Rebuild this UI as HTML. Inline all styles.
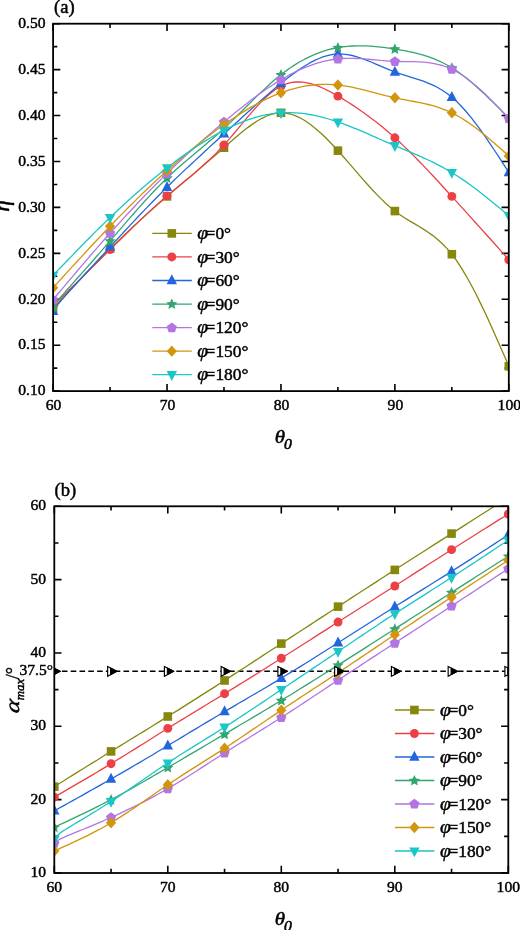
<!DOCTYPE html>
<html><head><meta charset="utf-8"><title>Figure</title>
<style>
html,body{margin:0;padding:0;background:#fff;}
svg{display:block;}
text{font-family:"Liberation Serif", serif;fill:#000;stroke:#000;stroke-width:0.46px;}
</style></head><body>
<svg width="520" height="930" viewBox="0 0 520 930">
<rect width="520" height="930" fill="#fff"/>
<defs>
<clipPath id="ca"><rect x="53.1" y="23.7" width="455.7" height="367.40000000000003"/></clipPath>
<clipPath id="cb"><rect x="54.3" y="506.3" width="454.0" height="366.7"/></clipPath>
</defs>

<path d="M53.10,391.1v-7.2M53.10,23.7v7.2M110.06,391.1v-4.2M110.06,23.7v4.2M167.03,391.1v-7.2M167.03,23.7v7.2M223.99,391.1v-4.2M223.99,23.7v4.2M280.95,391.1v-7.2M280.95,23.7v7.2M337.91,391.1v-4.2M337.91,23.7v4.2M394.88,391.1v-7.2M394.88,23.7v7.2M451.84,391.1v-4.2M451.84,23.7v4.2M508.80,391.1v-7.2M508.80,23.7v7.2M53.1,391.10h7.2M508.8,391.10h-7.2M53.1,345.18h7.2M508.8,345.18h-7.2M53.1,299.25h7.2M508.8,299.25h-7.2M53.1,253.33h7.2M508.8,253.33h-7.2M53.1,207.40h7.2M508.8,207.40h-7.2M53.1,161.48h7.2M508.8,161.48h-7.2M53.1,115.55h7.2M508.8,115.55h-7.2M53.1,69.62h7.2M508.8,69.62h-7.2M53.1,23.70h7.2M508.8,23.70h-7.2M53.1,368.14h4.2M508.8,368.14h-4.2M53.1,322.21h4.2M508.8,322.21h-4.2M53.1,276.29h4.2M508.8,276.29h-4.2M53.1,230.36h4.2M508.8,230.36h-4.2M53.1,184.44h4.2M508.8,184.44h-4.2M53.1,138.51h4.2M508.8,138.51h-4.2M53.1,92.59h4.2M508.8,92.59h-4.2M53.1,46.66h4.2M508.8,46.66h-4.2" stroke="#000" stroke-width="1.6" fill="none"/>
<g clip-path="url(#ca)">
<path d="M53.1,308.4 L57.8,303.3 L62.6,298.2 L67.3,293.1 L72.1,288.0 L76.8,283.0 L81.6,278.0 L86.3,273.0 L91.1,268.0 L95.8,263.1 L100.6,258.3 L105.3,253.5 L110.1,248.7 L114.8,244.1 L119.6,239.5 L124.3,234.9 L129.1,230.4 L133.8,226.0 L138.5,221.6 L143.3,217.3 L148.0,213.1 L152.8,208.8 L157.5,204.6 L162.3,200.5 L167.0,196.4 L171.8,192.3 L176.5,188.2 L181.3,184.2 L186.0,180.2 L190.8,176.2 L195.5,172.2 L200.3,168.1 L205.0,164.1 L209.7,160.1 L214.5,156.0 L219.2,151.9 L224.0,147.7 L228.7,143.5 L233.5,139.3 L238.2,135.2 L243.0,131.3 L247.7,127.6 L252.5,124.1 L257.2,121.0 L262.0,118.3 L266.7,116.0 L271.5,114.3 L276.2,113.2 L281.0,112.8 L285.7,113.1 L290.4,114.0 L295.2,115.6 L299.9,117.8 L304.7,120.5 L309.4,123.7 L314.2,127.4 L318.9,131.4 L323.7,135.8 L328.4,140.5 L333.2,145.5 L337.9,150.6 L342.7,156.0 L347.4,161.4 L352.2,166.9 L356.9,172.4 L361.6,177.9 L366.4,183.3 L371.1,188.5 L375.9,193.6 L380.6,198.4 L385.4,203.0 L390.1,207.2 L394.9,211.1 L399.6,214.5 L404.4,217.7 L409.1,220.6 L413.9,223.4 L418.6,226.2 L423.4,229.1 L428.1,232.2 L432.9,235.6 L437.6,239.4 L442.3,243.7 L447.1,248.6 L451.8,254.2 L456.6,260.7 L461.3,267.9 L466.1,275.8 L470.8,284.3 L475.6,293.3 L480.3,302.9 L485.1,312.8 L489.8,323.1 L494.6,333.7 L499.3,344.4 L504.1,355.3 L508.8,366.3" fill="none" stroke="#87870e" stroke-width="1.3" stroke-linejoin="round"/>
<rect x="48.80" y="304.13" width="8.60" height="8.60" fill="#87870e"/>
<rect x="105.76" y="244.43" width="8.60" height="8.60" fill="#87870e"/>
<rect x="162.72" y="192.08" width="8.60" height="8.60" fill="#87870e"/>
<rect x="219.69" y="143.40" width="8.60" height="8.60" fill="#87870e"/>
<rect x="276.65" y="108.49" width="8.60" height="8.60" fill="#87870e"/>
<rect x="333.61" y="146.34" width="8.60" height="8.60" fill="#87870e"/>
<rect x="390.57" y="206.77" width="8.60" height="8.60" fill="#87870e"/>
<rect x="447.54" y="249.94" width="8.60" height="8.60" fill="#87870e"/>
<rect x="504.50" y="362.00" width="8.60" height="8.60" fill="#87870e"/>
<path d="M53.1,305.7 L57.8,301.0 L62.6,296.3 L67.3,291.7 L72.1,287.0 L76.8,282.4 L81.6,277.7 L86.3,273.0 L91.1,268.3 L95.8,263.7 L100.6,259.0 L105.3,254.3 L110.1,249.7 L114.8,245.0 L119.6,240.3 L124.3,235.7 L129.1,231.0 L133.8,226.4 L138.5,221.9 L143.3,217.4 L148.0,212.9 L152.8,208.5 L157.5,204.2 L162.3,200.0 L167.0,195.9 L171.8,191.9 L176.5,187.9 L181.3,184.0 L186.0,180.1 L190.8,176.2 L195.5,172.2 L200.3,168.1 L205.0,163.8 L209.7,159.5 L214.5,154.9 L219.2,150.0 L224.0,144.9 L228.7,139.6 L233.5,134.0 L238.2,128.3 L243.0,122.6 L247.7,116.9 L252.5,111.4 L257.2,106.1 L262.0,101.1 L266.7,96.5 L271.5,92.4 L276.2,89.0 L281.0,86.2 L285.7,84.1 L290.4,82.7 L295.2,82.0 L299.9,81.9 L304.7,82.4 L309.4,83.3 L314.2,84.7 L318.9,86.4 L323.7,88.5 L328.4,90.8 L333.2,93.4 L337.9,96.1 L342.7,98.9 L347.4,101.8 L352.2,104.9 L356.9,108.0 L361.6,111.3 L366.4,114.7 L371.1,118.2 L375.9,121.8 L380.6,125.6 L385.4,129.5 L390.1,133.6 L394.9,137.8 L399.6,142.1 L404.4,146.6 L409.1,151.2 L413.9,155.9 L418.6,160.7 L423.4,165.6 L428.1,170.6 L432.9,175.7 L437.6,180.8 L442.3,186.0 L447.1,191.2 L451.8,196.4 L456.6,201.6 L461.3,206.9 L466.1,212.1 L470.8,217.4 L475.6,222.7 L480.3,227.9 L485.1,233.2 L489.8,238.5 L494.6,243.8 L499.3,249.1 L504.1,254.4 L508.8,259.8" fill="none" stroke="#ec4046" stroke-width="1.3" stroke-linejoin="round"/>
<circle cx="53.10" cy="305.68" r="4.45" fill="#ec4046"/>
<circle cx="110.06" cy="249.65" r="4.45" fill="#ec4046"/>
<circle cx="167.03" cy="195.92" r="4.45" fill="#ec4046"/>
<circle cx="223.99" cy="144.94" r="4.45" fill="#ec4046"/>
<circle cx="280.95" cy="86.16" r="4.45" fill="#ec4046"/>
<circle cx="337.91" cy="96.08" r="4.45" fill="#ec4046"/>
<circle cx="394.88" cy="137.78" r="4.45" fill="#ec4046"/>
<circle cx="451.84" cy="196.38" r="4.45" fill="#ec4046"/>
<circle cx="508.80" cy="259.75" r="4.45" fill="#ec4046"/>
<path d="M53.1,311.2 L53.7,310.2 L54.3,309.3 L54.9,308.4 L55.6,307.4 L56.4,306.3 L57.3,305.2 L58.3,303.9 L59.5,302.5 L60.9,300.8 L62.6,298.9 L64.6,296.6 L67.3,293.6 L72.1,288.3 L76.8,283.1 L81.6,277.9 L86.3,272.8 L91.1,267.6 L95.8,262.4 L100.6,257.2 L105.3,252.1 L110.1,246.9 L114.8,241.8 L119.6,236.6 L124.3,231.5 L129.1,226.4 L133.8,221.4 L138.5,216.3 L143.3,211.4 L148.0,206.4 L152.8,201.5 L157.5,196.7 L162.3,191.9 L167.0,187.2 L171.8,182.5 L176.5,177.9 L181.3,173.4 L186.0,168.9 L190.8,164.5 L195.5,160.1 L200.3,155.7 L205.0,151.3 L209.7,146.9 L214.5,142.6 L219.2,138.3 L224.0,133.9 L228.7,129.6 L233.5,125.2 L238.2,120.9 L243.0,116.5 L247.7,112.2 L252.5,107.9 L257.2,103.7 L262.0,99.5 L266.7,95.4 L271.5,91.3 L276.2,87.3 L281.0,83.4 L285.7,79.6 L290.4,75.9 L295.2,72.4 L299.9,69.1 L304.7,66.0 L309.4,63.2 L314.2,60.7 L318.9,58.5 L323.7,56.7 L328.4,55.4 L333.2,54.4 L337.9,54.0 L342.7,54.1 L347.4,54.6 L352.2,55.5 L356.9,56.8 L361.6,58.3 L366.4,60.1 L371.1,62.0 L375.9,64.1 L380.6,66.1 L385.4,68.2 L390.1,70.2 L394.9,72.0 L399.6,73.7 L404.4,75.2 L409.1,76.6 L413.9,78.1 L418.6,79.6 L423.4,81.2 L428.1,83.1 L432.9,85.1 L437.6,87.5 L442.3,90.3 L447.1,93.5 L451.8,97.2 L456.6,101.4 L461.3,106.2 L466.1,111.5 L470.8,117.2 L475.6,123.3 L480.3,129.7 L485.1,136.4 L489.8,143.3 L494.6,150.5 L499.3,157.7 L504.1,165.1 L508.8,172.5" fill="none" stroke="#2166de" stroke-width="1.3" stroke-linejoin="round"/>
<polygon points="53.10,304.89 47.90,314.89 58.30,314.89" fill="#2166de"/>
<polygon points="110.06,240.60 104.86,250.60 115.26,250.60" fill="#2166de"/>
<polygon points="167.03,180.89 161.83,190.89 172.22,190.89" fill="#2166de"/>
<polygon points="223.99,127.62 218.79,137.62 229.19,137.62" fill="#2166de"/>
<polygon points="280.95,77.10 275.75,87.10 286.15,87.10" fill="#2166de"/>
<polygon points="337.91,47.71 332.71,57.71 343.11,57.71" fill="#2166de"/>
<polygon points="394.88,65.71 389.68,75.71 400.07,75.71" fill="#2166de"/>
<polygon points="451.84,90.88 446.64,100.88 457.04,100.88" fill="#2166de"/>
<polygon points="508.80,166.20 503.60,176.20 514.00,176.20" fill="#2166de"/>
<path d="M53.1,307.1 L53.7,306.1 L54.3,305.2 L54.9,304.4 L55.6,303.4 L56.4,302.4 L57.3,301.2 L58.3,300.0 L59.5,298.5 L60.9,296.8 L62.6,294.9 L64.6,292.6 L67.3,289.5 L72.1,284.1 L76.8,278.8 L81.6,273.4 L86.3,268.1 L91.1,262.7 L95.8,257.3 L100.6,251.9 L105.3,246.4 L110.1,240.9 L114.8,235.4 L119.6,229.9 L124.3,224.4 L129.1,218.9 L133.8,213.5 L138.5,208.1 L143.3,202.8 L148.0,197.6 L152.8,192.5 L157.5,187.5 L162.3,182.7 L167.0,178.0 L171.8,173.5 L176.5,169.2 L181.3,165.0 L186.0,160.9 L190.8,156.9 L195.5,152.9 L200.3,149.0 L205.0,145.0 L209.7,141.0 L214.5,136.9 L219.2,132.7 L224.0,128.4 L228.7,124.0 L233.5,119.4 L238.2,114.7 L243.0,110.0 L247.7,105.3 L252.5,100.6 L257.2,95.9 L262.0,91.4 L266.7,86.9 L271.5,82.6 L276.2,78.5 L281.0,74.7 L285.7,71.1 L290.4,67.7 L295.2,64.6 L299.9,61.8 L304.7,59.2 L309.4,56.8 L314.2,54.7 L318.9,52.8 L323.7,51.1 L328.4,49.7 L333.2,48.5 L337.9,47.6 L342.7,46.8 L347.4,46.3 L352.2,46.0 L356.9,45.8 L361.6,45.8 L366.4,45.9 L371.1,46.2 L375.9,46.6 L380.6,47.1 L385.4,47.7 L390.1,48.3 L394.9,49.1 L399.6,49.8 L404.4,50.7 L409.1,51.6 L413.9,52.6 L418.6,53.8 L423.4,55.1 L428.1,56.7 L432.9,58.4 L437.6,60.3 L442.3,62.5 L447.1,65.0 L451.8,67.8 L456.6,70.9 L461.3,74.3 L466.1,77.9 L470.8,81.8 L475.6,85.9 L480.3,90.2 L485.1,94.6 L489.8,99.2 L494.6,103.9 L499.3,108.6 L504.1,113.5 L508.8,118.3" fill="none" stroke="#33a56e" stroke-width="1.3" stroke-linejoin="round"/>
<polygon points="53.10,301.46 54.73,305.11 58.71,305.53 55.74,308.21 56.57,312.13 53.10,310.13 49.63,312.13 50.46,308.21 47.49,305.53 51.47,305.11" fill="#33a56e"/>
<polygon points="110.06,235.33 111.69,238.98 115.67,239.40 112.70,242.08 113.53,246.00 110.06,244.00 106.59,246.00 107.43,242.08 104.45,239.40 108.43,238.98" fill="#33a56e"/>
<polygon points="167.03,172.41 168.65,176.06 172.64,176.48 169.66,179.16 170.49,183.08 167.03,181.08 163.56,183.08 164.39,179.16 161.41,176.48 165.40,176.06" fill="#33a56e"/>
<polygon points="223.99,122.81 225.62,126.47 229.60,126.89 226.62,129.57 227.46,133.48 223.99,131.48 220.52,133.48 221.35,129.57 218.38,126.89 222.36,126.47" fill="#33a56e"/>
<polygon points="280.95,69.08 282.58,72.73 286.56,73.15 283.59,75.83 284.42,79.75 280.95,77.75 277.48,79.75 278.31,75.83 275.34,73.15 279.32,72.73" fill="#33a56e"/>
<polygon points="337.91,41.98 339.54,45.64 343.52,46.06 340.55,48.74 341.38,52.65 337.91,50.65 334.44,52.65 335.28,48.74 332.30,46.06 336.28,45.64" fill="#33a56e"/>
<polygon points="394.88,43.45 396.50,47.11 400.49,47.53 397.51,50.21 398.34,54.12 394.88,52.12 391.41,54.12 392.24,50.21 389.26,47.53 393.25,47.11" fill="#33a56e"/>
<polygon points="451.84,62.19 453.47,65.84 457.45,66.26 454.47,68.94 455.31,72.86 451.84,70.86 448.37,72.86 449.20,68.94 446.23,66.26 450.21,65.84" fill="#33a56e"/>
<polygon points="508.80,112.71 510.43,116.36 514.41,116.78 511.44,119.46 512.27,123.38 508.80,121.38 505.33,123.38 506.16,119.46 503.19,116.78 507.17,116.36" fill="#33a56e"/>
<path d="M53.1,299.7 L57.8,294.0 L62.6,288.4 L67.3,282.7 L72.1,277.1 L76.8,271.5 L81.6,265.9 L86.3,260.3 L91.1,254.8 L95.8,249.3 L100.6,243.9 L105.3,238.5 L110.1,233.1 L114.8,227.8 L119.6,222.6 L124.3,217.4 L129.1,212.3 L133.8,207.2 L138.5,202.2 L143.3,197.3 L148.0,192.4 L152.8,187.5 L157.5,182.8 L162.3,178.1 L167.0,173.4 L171.8,168.8 L176.5,164.3 L181.3,159.8 L186.0,155.4 L190.8,151.1 L195.5,146.8 L200.3,142.5 L205.0,138.3 L209.7,134.2 L214.5,130.1 L219.2,126.0 L224.0,122.0 L228.7,118.0 L233.5,114.1 L238.2,110.2 L243.0,106.4 L247.7,102.7 L252.5,99.1 L257.2,95.6 L262.0,92.1 L266.7,88.8 L271.5,85.7 L276.2,82.6 L281.0,79.7 L285.7,77.0 L290.4,74.4 L295.2,72.0 L299.9,69.7 L304.7,67.7 L309.4,65.8 L314.2,64.1 L318.9,62.7 L323.7,61.4 L328.4,60.3 L333.2,59.5 L337.9,58.9 L342.7,58.5 L347.4,58.3 L352.2,58.3 L356.9,58.5 L361.6,58.7 L366.4,59.1 L371.1,59.5 L375.9,59.9 L380.6,60.4 L385.4,60.8 L390.1,61.1 L394.9,61.4 L399.6,61.5 L404.4,61.6 L409.1,61.7 L413.9,61.7 L418.6,61.9 L423.4,62.2 L428.1,62.6 L432.9,63.3 L437.6,64.3 L442.3,65.5 L447.1,67.1 L451.8,69.2 L456.6,71.6 L461.3,74.5 L466.1,77.8 L470.8,81.5 L475.6,85.4 L480.3,89.6 L485.1,94.0 L489.8,98.7 L494.6,103.4 L499.3,108.3 L504.1,113.3 L508.8,118.3" fill="none" stroke="#b275e2" stroke-width="1.3" stroke-linejoin="round"/>
<polygon points="53.10,294.53 58.21,298.25 56.26,304.26 49.94,304.26 47.99,298.25" fill="#b275e2"/>
<polygon points="110.06,227.94 115.17,231.66 113.22,237.67 106.90,237.67 104.95,231.66" fill="#b275e2"/>
<polygon points="167.03,168.24 172.14,171.95 170.18,177.96 163.87,177.96 161.91,171.95" fill="#b275e2"/>
<polygon points="223.99,116.80 229.10,120.52 227.15,126.53 220.83,126.53 218.88,120.52" fill="#b275e2"/>
<polygon points="280.95,74.55 286.06,78.27 284.11,84.28 277.79,84.28 275.84,78.27" fill="#b275e2"/>
<polygon points="337.91,53.70 343.02,57.42 341.07,63.43 334.75,63.43 332.80,57.42" fill="#b275e2"/>
<polygon points="394.88,56.18 399.99,59.90 398.03,65.91 391.72,65.91 389.76,59.90" fill="#b275e2"/>
<polygon points="451.84,63.99 456.95,67.70 455.00,73.71 448.68,73.71 446.73,67.70" fill="#b275e2"/>
<polygon points="508.80,113.13 513.91,116.84 511.96,122.85 505.64,122.85 503.69,116.84" fill="#b275e2"/>
<path d="M53.1,287.8 L57.8,282.6 L62.6,277.3 L67.3,272.1 L72.1,266.9 L76.8,261.8 L81.6,256.6 L86.3,251.5 L91.1,246.3 L95.8,241.3 L100.6,236.2 L105.3,231.2 L110.1,226.2 L114.8,221.3 L119.6,216.4 L124.3,211.6 L129.1,206.8 L133.8,202.1 L138.5,197.4 L143.3,192.8 L148.0,188.3 L152.8,183.8 L157.5,179.3 L162.3,175.0 L167.0,170.7 L171.8,166.4 L176.5,162.3 L181.3,158.2 L186.0,154.2 L190.8,150.2 L195.5,146.3 L200.3,142.5 L205.0,138.8 L209.7,135.2 L214.5,131.6 L219.2,128.1 L224.0,124.7 L228.7,121.4 L233.5,118.2 L238.2,115.1 L243.0,112.1 L247.7,109.1 L252.5,106.4 L257.2,103.7 L262.0,101.2 L266.7,98.9 L271.5,96.7 L276.2,94.6 L281.0,92.8 L285.7,91.1 L290.4,89.6 L295.2,88.3 L299.9,87.2 L304.7,86.2 L309.4,85.5 L314.2,84.9 L318.9,84.5 L323.7,84.3 L328.4,84.4 L333.2,84.6 L337.9,85.0 L342.7,85.6 L347.4,86.3 L352.2,87.2 L356.9,88.3 L361.6,89.4 L366.4,90.6 L371.1,91.8 L375.9,93.1 L380.6,94.3 L385.4,95.6 L390.1,96.7 L394.9,97.8 L399.6,98.8 L404.4,99.7 L409.1,100.6 L413.9,101.5 L418.6,102.4 L423.4,103.4 L428.1,104.5 L432.9,105.7 L437.6,107.1 L442.3,108.8 L447.1,110.6 L451.8,112.8 L456.6,115.3 L461.3,118.0 L466.1,121.1 L470.8,124.3 L475.6,127.8 L480.3,131.5 L485.1,135.3 L489.8,139.3 L494.6,143.4 L499.3,147.5 L504.1,151.7 L508.8,156.0" fill="none" stroke="#d2960e" stroke-width="1.3" stroke-linejoin="round"/>
<polygon points="53.10,282.07 58.20,287.77 53.10,293.47 48.00,287.77" fill="#d2960e"/>
<polygon points="110.06,220.53 115.16,226.23 110.06,231.93 104.96,226.23" fill="#d2960e"/>
<polygon points="167.03,164.96 172.12,170.66 167.03,176.36 161.93,170.66" fill="#d2960e"/>
<polygon points="223.99,119.03 229.09,124.73 223.99,130.43 218.89,124.73" fill="#d2960e"/>
<polygon points="280.95,87.07 286.05,92.77 280.95,98.47 275.85,92.77" fill="#d2960e"/>
<polygon points="337.91,79.26 343.01,84.96 337.91,90.66 332.81,84.96" fill="#d2960e"/>
<polygon points="394.88,92.12 399.98,97.82 394.88,103.52 389.77,97.82" fill="#d2960e"/>
<polygon points="451.84,107.09 456.94,112.79 451.84,118.49 446.74,112.79" fill="#d2960e"/>
<polygon points="508.80,150.26 513.90,155.96 508.80,161.66 503.70,155.96" fill="#d2960e"/>
<path d="M53.1,275.4 L57.8,270.4 L62.6,265.5 L67.3,260.5 L72.1,255.6 L76.8,250.7 L81.6,245.8 L86.3,241.0 L91.1,236.2 L95.8,231.4 L100.6,226.7 L105.3,222.1 L110.1,217.5 L114.8,213.0 L119.6,208.5 L124.3,204.2 L129.1,199.8 L133.8,195.6 L138.5,191.4 L143.3,187.3 L148.0,183.3 L152.8,179.3 L157.5,175.5 L162.3,171.6 L167.0,167.9 L171.8,164.2 L176.5,160.6 L181.3,157.1 L186.0,153.7 L190.8,150.4 L195.5,147.2 L200.3,144.1 L205.0,141.1 L209.7,138.2 L214.5,135.4 L219.2,132.8 L224.0,130.2 L228.7,127.9 L233.5,125.7 L238.2,123.6 L243.0,121.7 L247.7,119.9 L252.5,118.3 L257.2,116.9 L262.0,115.7 L266.7,114.7 L271.5,113.8 L276.2,113.2 L281.0,112.8 L285.7,112.6 L290.4,112.6 L295.2,112.8 L299.9,113.2 L304.7,113.7 L309.4,114.5 L314.2,115.4 L318.9,116.4 L323.7,117.6 L328.4,119.0 L333.2,120.4 L337.9,122.0 L342.7,123.7 L347.4,125.4 L352.2,127.3 L356.9,129.2 L361.6,131.2 L366.4,133.2 L371.1,135.3 L375.9,137.4 L380.6,139.5 L385.4,141.6 L390.1,143.6 L394.9,145.7 L399.6,147.7 L404.4,149.7 L409.1,151.7 L413.9,153.7 L418.6,155.7 L423.4,157.8 L428.1,160.0 L432.9,162.2 L437.6,164.6 L442.3,167.1 L447.1,169.7 L451.8,172.5 L456.6,175.5 L461.3,178.6 L466.1,181.9 L470.8,185.3 L475.6,188.8 L480.3,192.5 L485.1,196.2 L489.8,200.0 L494.6,203.9 L499.3,207.8 L504.1,211.7 L508.8,215.7" fill="none" stroke="#1ac6c6" stroke-width="1.3" stroke-linejoin="round"/>
<polygon points="53.10,281.57 47.90,271.77 58.30,271.77" fill="#1ac6c6"/>
<polygon points="110.06,223.70 104.86,213.90 115.26,213.90" fill="#1ac6c6"/>
<polygon points="167.03,174.10 161.83,164.30 172.22,164.30" fill="#1ac6c6"/>
<polygon points="223.99,136.45 218.79,126.65 229.19,126.65" fill="#1ac6c6"/>
<polygon points="280.95,118.99 275.75,109.19 286.15,109.19" fill="#1ac6c6"/>
<polygon points="337.91,128.18 332.71,118.38 343.11,118.38" fill="#1ac6c6"/>
<polygon points="394.88,151.88 389.68,142.08 400.07,142.08" fill="#1ac6c6"/>
<polygon points="451.84,178.70 446.64,168.90 457.04,168.90" fill="#1ac6c6"/>
<polygon points="508.80,221.87 503.60,212.07 514.00,212.07" fill="#1ac6c6"/>
</g>
<rect x="53.1" y="23.7" width="455.70" height="367.40" fill="none" stroke="#000" stroke-width="1.8"/>
<text x="45.5" y="395.40" font-size="15.6" text-anchor="end">0.10</text>
<text x="45.5" y="349.48" font-size="15.6" text-anchor="end">0.15</text>
<text x="45.5" y="303.55" font-size="15.6" text-anchor="end">0.20</text>
<text x="45.5" y="257.62" font-size="15.6" text-anchor="end">0.25</text>
<text x="45.5" y="211.70" font-size="15.6" text-anchor="end">0.30</text>
<text x="45.5" y="165.78" font-size="15.6" text-anchor="end">0.35</text>
<text x="45.5" y="119.85" font-size="15.6" text-anchor="end">0.40</text>
<text x="45.5" y="73.92" font-size="15.6" text-anchor="end">0.45</text>
<text x="45.5" y="28.00" font-size="15.6" text-anchor="end">0.50</text>
<text x="53.60" y="410.2" font-size="15.6" text-anchor="middle">60</text>
<text x="167.53" y="410.2" font-size="15.6" text-anchor="middle">70</text>
<text x="281.45" y="410.2" font-size="15.6" text-anchor="middle">80</text>
<text x="395.38" y="410.2" font-size="15.6" text-anchor="middle">90</text>
<text x="509.30" y="410.2" font-size="15.6" text-anchor="middle">100</text>
<text x="54" y="13.2" font-size="18.6" stroke-width="0.6">(a)</text>
<text transform="translate(9.4,206) rotate(-90)" font-size="23" font-style="italic" stroke-width="0.7" text-anchor="middle">η</text>
<text transform="translate(274.8,442.6) scale(1.08,1)" font-size="19.4" font-style="italic" stroke-width="1.05">θ<tspan font-size="14.5" dy="6.0" dx="-1.0" stroke-width="0.55">0</tspan></text>
<path d="M152.3,233.40h39.5" stroke="#87870e" stroke-width="1.3"/>
<rect x="167.50" y="229.10" width="8.60" height="8.60" fill="#87870e"/>
<text x="197.2" y="239.10" font-size="17.4" stroke-width="0.45"><tspan font-style="italic" font-size="19.5" stroke-width="0.45">φ</tspan><tspan dx="-2.4">=0°</tspan></text>
<path d="M152.3,256.95h39.5" stroke="#ec4046" stroke-width="1.3"/>
<circle cx="171.80" cy="256.95" r="4.45" fill="#ec4046"/>
<text x="197.2" y="262.65" font-size="17.4" stroke-width="0.45"><tspan font-style="italic" font-size="19.5" stroke-width="0.45">φ</tspan><tspan dx="-2.4">=30°</tspan></text>
<path d="M152.3,280.50h39.5" stroke="#2166de" stroke-width="1.3"/>
<polygon points="171.80,274.20 166.60,284.20 177.00,284.20" fill="#2166de"/>
<text x="197.2" y="286.20" font-size="17.4" stroke-width="0.45"><tspan font-style="italic" font-size="19.5" stroke-width="0.45">φ</tspan><tspan dx="-2.4">=60°</tspan></text>
<path d="M152.3,304.05h39.5" stroke="#33a56e" stroke-width="1.3"/>
<polygon points="171.80,298.45 173.43,302.11 177.41,302.53 174.44,305.21 175.27,309.12 171.80,307.12 168.33,309.12 169.16,305.21 166.19,302.53 170.17,302.11" fill="#33a56e"/>
<text x="197.2" y="309.75" font-size="17.4" stroke-width="0.45"><tspan font-style="italic" font-size="19.5" stroke-width="0.45">φ</tspan><tspan dx="-2.4">=90°</tspan></text>
<path d="M152.3,327.60h39.5" stroke="#b275e2" stroke-width="1.3"/>
<polygon points="171.80,322.43 176.91,326.14 174.96,332.15 168.64,332.15 166.69,326.14" fill="#b275e2"/>
<text x="197.2" y="333.30" font-size="17.4" stroke-width="0.45"><tspan font-style="italic" font-size="19.5" stroke-width="0.45">φ</tspan><tspan dx="-2.4">=120°</tspan></text>
<path d="M152.3,351.15h39.5" stroke="#d2960e" stroke-width="1.3"/>
<polygon points="171.80,345.45 176.90,351.15 171.80,356.85 166.70,351.15" fill="#d2960e"/>
<text x="197.2" y="356.85" font-size="17.4" stroke-width="0.45"><tspan font-style="italic" font-size="19.5" stroke-width="0.45">φ</tspan><tspan dx="-2.4">=150°</tspan></text>
<path d="M152.3,374.70h39.5" stroke="#1ac6c6" stroke-width="1.3"/>
<polygon points="171.80,380.90 166.60,371.10 177.00,371.10" fill="#1ac6c6"/>
<text x="197.2" y="380.40" font-size="17.4" stroke-width="0.45"><tspan font-style="italic" font-size="19.5" stroke-width="0.45">φ</tspan><tspan dx="-2.4">=180°</tspan></text>
<path d="M54.30,873.0v-7.2M54.30,506.3v7.2M111.05,873.0v-4.2M111.05,506.3v4.2M167.80,873.0v-7.2M167.80,506.3v7.2M224.55,873.0v-4.2M224.55,506.3v4.2M281.30,873.0v-7.2M281.30,506.3v7.2M338.05,873.0v-4.2M338.05,506.3v4.2M394.80,873.0v-7.2M394.80,506.3v7.2M451.55,873.0v-4.2M451.55,506.3v4.2M508.30,873.0v-7.2M508.30,506.3v7.2M54.3,873.00h7.2M508.3,873.00h-7.2M54.3,799.66h7.2M508.3,799.66h-7.2M54.3,726.32h7.2M508.3,726.32h-7.2M54.3,652.98h7.2M508.3,652.98h-7.2M54.3,579.64h7.2M508.3,579.64h-7.2M54.3,506.30h7.2M508.3,506.30h-7.2M54.3,836.33h4.2M508.3,836.33h-4.2M54.3,762.99h4.2M508.3,762.99h-4.2M54.3,689.65h4.2M508.3,689.65h-4.2M54.3,616.31h4.2M508.3,616.31h-4.2M54.3,542.97h4.2M508.3,542.97h-4.2" stroke="#000" stroke-width="1.6" fill="none"/>
<g clip-path="url(#cb)">
<path d="M54.3,671.32H508.3" stroke="#000" stroke-width="1.45" stroke-dasharray="5.6 3.2" stroke-dashoffset="1.2" fill="none"/>
<path d="M54.3,786.7 L59.0,783.7 L63.8,780.8 L68.5,777.8 L73.2,774.9 L77.9,771.9 L82.7,769.0 L87.4,766.0 L92.1,763.1 L96.9,760.2 L101.6,757.2 L106.3,754.3 L111.0,751.4 L115.8,748.5 L120.5,745.6 L125.2,742.7 L130.0,739.8 L134.7,736.9 L139.4,734.0 L144.2,731.1 L148.9,728.2 L153.6,725.3 L158.3,722.4 L163.1,719.4 L167.8,716.5 L172.5,713.5 L177.3,710.6 L182.0,707.6 L186.7,704.6 L191.4,701.6 L196.2,698.6 L200.9,695.6 L205.6,692.6 L210.4,689.6 L215.1,686.6 L219.8,683.5 L224.6,680.5 L229.3,677.4 L234.0,674.4 L238.7,671.3 L243.5,668.2 L248.2,665.2 L252.9,662.1 L257.7,659.0 L262.4,655.9 L267.1,652.8 L271.8,649.8 L276.6,646.7 L281.3,643.6 L286.0,640.5 L290.8,637.4 L295.5,634.3 L300.2,631.3 L304.9,628.2 L309.7,625.1 L314.4,622.0 L319.1,618.9 L323.9,615.9 L328.6,612.8 L333.3,609.7 L338.1,606.6 L342.8,603.6 L347.5,600.5 L352.2,597.4 L357.0,594.3 L361.7,591.3 L366.4,588.2 L371.2,585.1 L375.9,582.1 L380.6,579.0 L385.3,576.0 L390.1,572.9 L394.8,569.9 L399.5,566.8 L404.3,563.8 L409.0,560.8 L413.7,557.7 L418.4,554.7 L423.2,551.7 L427.9,548.7 L432.6,545.6 L437.4,542.6 L442.1,539.6 L446.8,536.6 L451.6,533.6 L456.3,530.6 L461.0,527.6 L465.7,524.6 L470.5,521.5 L475.2,518.5 L479.9,515.5 L484.7,512.5 L489.4,509.5 L494.1,506.5 L498.8,503.5 L503.6,500.5 L508.3,497.5" fill="none" stroke="#87870e" stroke-width="1.3" stroke-linejoin="round"/>
<rect x="50.00" y="782.38" width="8.60" height="8.60" fill="#87870e"/>
<rect x="106.75" y="747.10" width="8.60" height="8.60" fill="#87870e"/>
<rect x="163.50" y="712.19" width="8.60" height="8.60" fill="#87870e"/>
<rect x="220.25" y="676.18" width="8.60" height="8.60" fill="#87870e"/>
<rect x="277.00" y="639.29" width="8.60" height="8.60" fill="#87870e"/>
<rect x="333.75" y="602.33" width="8.60" height="8.60" fill="#87870e"/>
<rect x="390.50" y="565.59" width="8.60" height="8.60" fill="#87870e"/>
<rect x="447.25" y="529.28" width="8.60" height="8.60" fill="#87870e"/>
<rect x="504.00" y="493.20" width="8.60" height="8.60" fill="#87870e"/>
<path d="M54.3,797.1 L59.0,794.4 L63.8,791.6 L68.5,788.9 L73.2,786.1 L77.9,783.4 L82.7,780.6 L87.4,777.9 L92.1,775.1 L96.9,772.3 L101.6,769.4 L106.3,766.6 L111.0,763.7 L115.8,760.8 L120.5,757.9 L125.2,755.0 L130.0,752.0 L134.7,749.1 L139.4,746.1 L144.2,743.2 L148.9,740.2 L153.6,737.2 L158.3,734.3 L163.1,731.3 L167.8,728.4 L172.5,725.4 L177.3,722.5 L182.0,719.6 L186.7,716.7 L191.4,713.9 L196.2,711.0 L200.9,708.1 L205.6,705.2 L210.4,702.3 L215.1,699.5 L219.8,696.6 L224.6,693.7 L229.3,690.8 L234.0,687.9 L238.7,684.9 L243.5,682.0 L248.2,679.1 L252.9,676.1 L257.7,673.2 L262.4,670.2 L267.1,667.2 L271.8,664.2 L276.6,661.3 L281.3,658.3 L286.0,655.3 L290.8,652.2 L295.5,649.2 L300.2,646.2 L304.9,643.2 L309.7,640.2 L314.4,637.1 L319.1,634.1 L323.9,631.1 L328.6,628.1 L333.3,625.0 L338.1,622.0 L342.8,619.0 L347.5,616.0 L352.2,613.0 L357.0,610.0 L361.7,607.0 L366.4,604.0 L371.2,601.0 L375.9,598.0 L380.6,595.0 L385.3,592.0 L390.1,589.0 L394.8,586.0 L399.5,583.0 L404.3,580.0 L409.0,577.0 L413.7,573.9 L418.4,570.9 L423.2,567.9 L427.9,564.8 L432.6,561.8 L437.4,558.8 L442.1,555.7 L446.8,552.7 L451.6,549.7 L456.3,546.7 L461.0,543.7 L465.7,540.7 L470.5,537.7 L475.2,534.8 L479.9,531.8 L484.7,528.8 L489.4,525.9 L494.1,522.9 L498.8,519.9 L503.6,517.0 L508.3,514.0" fill="none" stroke="#ec4046" stroke-width="1.3" stroke-linejoin="round"/>
<circle cx="54.30" cy="797.09" r="4.45" fill="#ec4046"/>
<circle cx="111.05" cy="763.72" r="4.45" fill="#ec4046"/>
<circle cx="167.80" cy="728.37" r="4.45" fill="#ec4046"/>
<circle cx="224.55" cy="693.68" r="4.45" fill="#ec4046"/>
<circle cx="281.30" cy="658.26" r="4.45" fill="#ec4046"/>
<circle cx="338.05" cy="622.03" r="4.45" fill="#ec4046"/>
<circle cx="394.80" cy="586.02" r="4.45" fill="#ec4046"/>
<circle cx="451.55" cy="549.72" r="4.45" fill="#ec4046"/>
<circle cx="508.30" cy="514.00" r="4.45" fill="#ec4046"/>
<path d="M54.3,810.9 L59.0,808.3 L63.8,805.6 L68.5,803.0 L73.2,800.4 L77.9,797.7 L82.7,795.1 L87.4,792.4 L92.1,789.8 L96.9,787.1 L101.6,784.4 L106.3,781.8 L111.0,779.1 L115.8,776.3 L120.5,773.6 L125.2,770.9 L130.0,768.1 L134.7,765.3 L139.4,762.6 L144.2,759.8 L148.9,757.0 L153.6,754.2 L158.3,751.3 L163.1,748.5 L167.8,745.7 L172.5,742.8 L177.3,740.0 L182.0,737.1 L186.7,734.3 L191.4,731.4 L196.2,728.6 L200.9,725.8 L205.6,722.9 L210.4,720.1 L215.1,717.3 L219.8,714.5 L224.6,711.7 L229.3,708.9 L234.0,706.1 L238.7,703.3 L243.5,700.6 L248.2,697.8 L252.9,695.0 L257.7,692.3 L262.4,689.5 L267.1,686.7 L271.8,683.9 L276.6,681.1 L281.3,678.2 L286.0,675.3 L290.8,672.4 L295.5,669.5 L300.2,666.6 L304.9,663.7 L309.7,660.7 L314.4,657.7 L319.1,654.7 L323.9,651.7 L328.6,648.7 L333.3,645.7 L338.1,642.7 L342.8,639.7 L347.5,636.7 L352.2,633.7 L357.0,630.7 L361.7,627.7 L366.4,624.7 L371.2,621.7 L375.9,618.7 L380.6,615.7 L385.3,612.7 L390.1,609.7 L394.8,606.8 L399.5,603.8 L404.3,600.9 L409.0,597.9 L413.7,595.0 L418.4,592.1 L423.2,589.1 L427.9,586.2 L432.6,583.3 L437.4,580.3 L442.1,577.4 L446.8,574.4 L451.6,571.4 L456.3,568.4 L461.0,565.4 L465.7,562.4 L470.5,559.4 L475.2,556.3 L479.9,553.3 L484.7,550.2 L489.4,547.2 L494.1,544.1 L498.8,541.0 L503.6,538.0 L508.3,534.9" fill="none" stroke="#2166de" stroke-width="1.3" stroke-linejoin="round"/>
<polygon points="54.30,804.58 49.10,814.58 59.50,814.58" fill="#2166de"/>
<polygon points="111.05,772.75 105.85,782.75 116.25,782.75" fill="#2166de"/>
<polygon points="167.80,739.38 162.60,749.38 173.00,749.38" fill="#2166de"/>
<polygon points="224.55,705.35 219.35,715.35 229.75,715.35" fill="#2166de"/>
<polygon points="281.30,671.91 276.10,681.91 286.50,681.91" fill="#2166de"/>
<polygon points="338.05,636.41 332.85,646.41 343.25,646.41" fill="#2166de"/>
<polygon points="394.80,600.48 389.60,610.48 400.00,610.48" fill="#2166de"/>
<polygon points="451.55,565.13 446.35,575.13 456.75,575.13" fill="#2166de"/>
<polygon points="508.30,528.60 503.10,538.60 513.50,538.60" fill="#2166de"/>
<path d="M54.3,827.2 L59.0,825.0 L63.8,822.8 L68.5,820.6 L73.2,818.3 L77.9,816.1 L82.7,813.8 L87.4,811.6 L92.1,809.3 L96.9,806.9 L101.6,804.5 L106.3,802.1 L111.0,799.7 L115.8,797.2 L120.5,794.6 L125.2,792.0 L130.0,789.4 L134.7,786.7 L139.4,784.0 L144.2,781.3 L148.9,778.6 L153.6,775.8 L158.3,773.1 L163.1,770.3 L167.8,767.5 L172.5,764.8 L177.3,762.0 L182.0,759.2 L186.7,756.4 L191.4,753.6 L196.2,750.9 L200.9,748.1 L205.6,745.3 L210.4,742.5 L215.1,739.7 L219.8,736.9 L224.6,734.2 L229.3,731.4 L234.0,728.6 L238.7,725.8 L243.5,723.0 L248.2,720.2 L252.9,717.4 L257.7,714.6 L262.4,711.8 L267.1,709.0 L271.8,706.1 L276.6,703.3 L281.3,700.4 L286.0,697.5 L290.8,694.7 L295.5,691.7 L300.2,688.8 L304.9,685.9 L309.7,682.9 L314.4,680.0 L319.1,677.0 L323.9,674.0 L328.6,671.1 L333.3,668.1 L338.1,665.1 L342.8,662.1 L347.5,659.1 L352.2,656.1 L357.0,653.1 L361.7,650.1 L366.4,647.1 L371.2,644.0 L375.9,641.0 L380.6,638.0 L385.3,635.0 L390.1,632.0 L394.8,628.9 L399.5,625.9 L404.3,622.9 L409.0,619.8 L413.7,616.8 L418.4,613.7 L423.2,610.7 L427.9,607.7 L432.6,604.6 L437.4,601.6 L442.1,598.5 L446.8,595.5 L451.6,592.5 L456.3,589.4 L461.0,586.4 L465.7,583.4 L470.5,580.4 L475.2,577.3 L479.9,574.3 L484.7,571.3 L489.4,568.3 L494.1,565.2 L498.8,562.2 L503.6,559.2 L508.3,556.2" fill="none" stroke="#33a56e" stroke-width="1.3" stroke-linejoin="round"/>
<polygon points="54.30,821.56 55.93,825.22 59.91,825.64 56.94,828.32 57.77,832.24 54.30,830.24 50.83,832.24 51.66,828.32 48.69,825.64 52.67,825.22" fill="#33a56e"/>
<polygon points="111.05,794.06 112.68,797.72 116.66,798.14 113.69,800.82 114.52,804.73 111.05,802.73 107.58,804.73 108.41,800.82 105.44,798.14 109.42,797.72" fill="#33a56e"/>
<polygon points="167.80,761.94 169.43,765.59 173.41,766.01 170.44,768.69 171.27,772.61 167.80,770.61 164.33,772.61 165.16,768.69 162.19,766.01 166.17,765.59" fill="#33a56e"/>
<polygon points="224.55,728.57 226.18,732.22 230.16,732.64 227.19,735.32 228.02,739.24 224.55,737.24 221.08,739.24 221.91,735.32 218.94,732.64 222.92,732.22" fill="#33a56e"/>
<polygon points="281.30,694.83 282.93,698.49 286.91,698.91 283.94,701.59 284.77,705.50 281.30,703.50 277.83,705.50 278.66,701.59 275.69,698.91 279.67,698.49" fill="#33a56e"/>
<polygon points="338.05,659.48 339.68,663.14 343.66,663.56 340.69,666.24 341.52,670.15 338.05,668.15 334.58,670.15 335.41,666.24 332.44,663.56 336.42,663.14" fill="#33a56e"/>
<polygon points="394.80,623.32 396.43,626.98 400.41,627.40 397.44,630.08 398.27,634.00 394.80,632.00 391.33,634.00 392.16,630.08 389.19,627.40 393.17,626.98" fill="#33a56e"/>
<polygon points="451.55,586.87 453.18,590.53 457.16,590.95 454.19,593.63 455.02,597.55 451.55,595.55 448.08,597.55 448.91,593.63 445.94,590.95 449.92,590.53" fill="#33a56e"/>
<polygon points="508.30,550.57 509.93,554.23 513.91,554.65 510.94,557.33 511.77,561.24 508.30,559.24 504.83,561.24 505.66,557.33 502.69,554.65 506.67,554.23" fill="#33a56e"/>
<path d="M54.3,843.3 L54.9,842.7 L55.5,842.1 L56.1,841.6 L56.8,841.1 L57.6,840.5 L58.5,840.0 L59.5,839.4 L60.7,838.8 L62.1,838.1 L63.8,837.3 L65.8,836.4 L68.5,835.3 L73.2,833.4 L77.9,831.4 L82.7,829.5 L87.4,827.6 L92.1,825.6 L96.9,823.6 L101.6,821.6 L106.3,819.5 L111.0,817.4 L115.8,815.3 L120.5,813.1 L125.2,810.9 L130.0,808.7 L134.7,806.4 L139.4,804.0 L144.2,801.6 L148.9,799.1 L153.6,796.6 L158.3,794.0 L163.1,791.4 L167.8,788.7 L172.5,785.9 L177.3,783.0 L182.0,780.1 L186.7,777.2 L191.4,774.2 L196.2,771.2 L200.9,768.1 L205.6,765.1 L210.4,762.0 L215.1,759.0 L219.8,756.0 L224.6,752.9 L229.3,750.0 L234.0,747.0 L238.7,744.0 L243.5,741.1 L248.2,738.2 L252.9,735.3 L257.7,732.3 L262.4,729.4 L267.1,726.5 L271.8,723.5 L276.6,720.5 L281.3,717.5 L286.0,714.5 L290.8,711.4 L295.5,708.3 L300.2,705.2 L304.9,702.1 L309.7,699.0 L314.4,695.8 L319.1,692.7 L323.9,689.5 L328.6,686.4 L333.3,683.3 L338.1,680.1 L342.8,677.0 L347.5,673.9 L352.2,670.8 L357.0,667.7 L361.7,664.6 L366.4,661.5 L371.2,658.4 L375.9,655.4 L380.6,652.3 L385.3,649.2 L390.1,646.1 L394.8,643.1 L399.5,640.0 L404.3,636.9 L409.0,633.9 L413.7,630.8 L418.4,627.7 L423.2,624.6 L427.9,621.5 L432.6,618.4 L437.4,615.3 L442.1,612.2 L446.8,609.1 L451.6,606.0 L456.3,602.9 L461.0,599.8 L465.7,596.7 L470.5,593.6 L475.2,590.5 L479.9,587.4 L484.7,584.3 L489.4,581.1 L494.1,578.0 L498.8,574.9 L503.6,571.8 L508.3,568.6" fill="none" stroke="#b275e2" stroke-width="1.3" stroke-linejoin="round"/>
<polygon points="54.30,838.12 59.41,841.84 57.46,847.85 51.14,847.85 49.19,841.84" fill="#b275e2"/>
<polygon points="111.05,812.23 116.16,815.95 114.21,821.96 107.89,821.96 105.94,815.95" fill="#b275e2"/>
<polygon points="167.80,783.48 172.91,787.20 170.96,793.21 164.64,793.21 162.69,787.20" fill="#b275e2"/>
<polygon points="224.55,747.77 229.66,751.48 227.71,757.49 221.39,757.49 219.44,751.48" fill="#b275e2"/>
<polygon points="281.30,712.34 286.41,716.06 284.46,722.07 278.14,722.07 276.19,716.06" fill="#b275e2"/>
<polygon points="338.05,674.94 343.16,678.65 341.21,684.66 334.89,684.66 332.94,678.65" fill="#b275e2"/>
<polygon points="394.80,637.90 399.91,641.62 397.96,647.63 391.64,647.63 389.69,641.62" fill="#b275e2"/>
<polygon points="451.55,600.87 456.66,604.58 454.71,610.59 448.39,610.59 446.44,604.58" fill="#b275e2"/>
<polygon points="508.30,563.46 513.41,567.18 511.46,573.19 505.14,573.19 503.19,567.18" fill="#b275e2"/>
<path d="M54.3,851.0 L59.0,848.9 L63.8,846.7 L68.5,844.6 L73.2,842.4 L77.9,840.2 L82.7,837.9 L87.4,835.6 L92.1,833.2 L96.9,830.7 L101.6,828.2 L106.3,825.5 L111.0,822.8 L115.8,819.9 L120.5,816.9 L125.2,813.9 L130.0,810.7 L134.7,807.6 L139.4,804.3 L144.2,801.1 L148.9,797.8 L153.6,794.5 L158.3,791.2 L163.1,788.0 L167.8,784.8 L172.5,781.6 L177.3,778.5 L182.0,775.4 L186.7,772.4 L191.4,769.4 L196.2,766.4 L200.9,763.4 L205.6,760.4 L210.4,757.4 L215.1,754.4 L219.8,751.4 L224.6,748.3 L229.3,745.2 L234.0,742.1 L238.7,739.0 L243.5,735.8 L248.2,732.6 L252.9,729.4 L257.7,726.2 L262.4,723.0 L267.1,719.8 L271.8,716.6 L276.6,713.4 L281.3,710.2 L286.0,707.0 L290.8,703.9 L295.5,700.8 L300.2,697.6 L304.9,694.5 L309.7,691.4 L314.4,688.3 L319.1,685.2 L323.9,682.1 L328.6,679.0 L333.3,675.9 L338.1,672.8 L342.8,669.6 L347.5,666.5 L352.2,663.3 L357.0,660.1 L361.7,656.9 L366.4,653.8 L371.2,650.6 L375.9,647.4 L380.6,644.2 L385.3,641.0 L390.1,637.8 L394.8,634.6 L399.5,631.5 L404.3,628.3 L409.0,625.2 L413.7,622.1 L418.4,618.9 L423.2,615.8 L427.9,612.7 L432.6,609.6 L437.4,606.5 L442.1,603.4 L446.8,600.3 L451.6,597.2 L456.3,594.2 L461.0,591.1 L465.7,588.0 L470.5,584.9 L475.2,581.8 L479.9,578.7 L484.7,575.6 L489.4,572.5 L494.1,569.5 L498.8,566.4 L503.6,563.3 L508.3,560.2" fill="none" stroke="#d2960e" stroke-width="1.3" stroke-linejoin="round"/>
<polygon points="54.30,845.30 59.40,851.00 54.30,856.70 49.20,851.00" fill="#d2960e"/>
<polygon points="111.05,817.06 116.15,822.76 111.05,828.46 105.95,822.76" fill="#d2960e"/>
<polygon points="167.80,779.07 172.90,784.77 167.80,790.47 162.70,784.77" fill="#d2960e"/>
<polygon points="224.55,742.62 229.65,748.32 224.55,754.02 219.45,748.32" fill="#d2960e"/>
<polygon points="281.30,704.49 286.40,710.19 281.30,715.89 276.20,710.19" fill="#d2960e"/>
<polygon points="338.05,667.08 343.15,672.78 338.05,678.48 332.95,672.78" fill="#d2960e"/>
<polygon points="394.80,628.94 399.90,634.64 394.80,640.35 389.70,634.64" fill="#d2960e"/>
<polygon points="451.55,591.54 456.65,597.24 451.55,602.94 446.45,597.24" fill="#d2960e"/>
<polygon points="508.30,554.50 513.40,560.20 508.30,565.90 503.20,560.20" fill="#d2960e"/>
<path d="M54.3,839.3 L54.9,838.4 L55.5,837.5 L56.1,836.8 L56.8,836.0 L57.6,835.2 L58.5,834.4 L59.5,833.5 L60.7,832.6 L62.1,831.6 L63.8,830.5 L65.8,829.2 L68.5,827.6 L73.2,824.7 L77.9,821.9 L82.7,819.1 L87.4,816.3 L92.1,813.4 L96.9,810.5 L101.6,807.5 L106.3,804.5 L111.0,801.5 L115.8,798.4 L120.5,795.2 L125.2,792.0 L130.0,788.8 L134.7,785.6 L139.4,782.3 L144.2,779.0 L148.9,775.8 L153.6,772.5 L158.3,769.3 L163.1,766.1 L167.8,763.0 L172.5,759.9 L177.3,756.8 L182.0,753.8 L186.7,750.8 L191.4,747.9 L196.2,744.9 L200.9,742.0 L205.6,739.1 L210.4,736.1 L215.1,733.2 L219.8,730.2 L224.6,727.2 L229.3,724.2 L234.0,721.1 L238.7,718.0 L243.5,714.9 L248.2,711.8 L252.9,708.7 L257.7,705.5 L262.4,702.4 L267.1,699.2 L271.8,696.0 L276.6,692.8 L281.3,689.6 L286.0,686.5 L290.8,683.3 L295.5,680.1 L300.2,676.9 L304.9,673.8 L309.7,670.6 L314.4,667.4 L319.1,664.2 L323.9,661.0 L328.6,657.9 L333.3,654.7 L338.1,651.5 L342.8,648.3 L347.5,645.2 L352.2,642.0 L357.0,638.8 L361.7,635.6 L366.4,632.5 L371.2,629.3 L375.9,626.2 L380.6,623.0 L385.3,619.9 L390.1,616.8 L394.8,613.7 L399.5,610.7 L404.3,607.6 L409.0,604.6 L413.7,601.6 L418.4,598.6 L423.2,595.6 L427.9,592.6 L432.6,589.5 L437.4,586.5 L442.1,583.5 L446.8,580.5 L451.6,577.4 L456.3,574.4 L461.0,571.3 L465.7,568.2 L470.5,565.1 L475.2,562.0 L479.9,558.9 L484.7,555.8 L489.4,552.6 L494.1,549.5 L498.8,546.3 L503.6,543.2 L508.3,540.0" fill="none" stroke="#1ac6c6" stroke-width="1.3" stroke-linejoin="round"/>
<polygon points="54.30,845.46 49.10,835.66 59.50,835.66" fill="#1ac6c6"/>
<polygon points="111.05,807.69 105.85,797.89 116.25,797.89" fill="#1ac6c6"/>
<polygon points="167.80,769.19 162.60,759.39 173.00,759.39" fill="#1ac6c6"/>
<polygon points="224.55,733.40 219.35,723.60 229.75,723.60" fill="#1ac6c6"/>
<polygon points="281.30,695.85 276.10,686.05 286.50,686.05" fill="#1ac6c6"/>
<polygon points="338.05,657.71 332.85,647.91 343.25,647.91" fill="#1ac6c6"/>
<polygon points="394.80,619.94 389.60,610.14 400.00,610.14" fill="#1ac6c6"/>
<polygon points="451.55,583.64 446.35,573.84 456.75,573.84" fill="#1ac6c6"/>
<polygon points="508.30,546.24 503.10,536.44 513.50,536.44" fill="#1ac6c6"/>
<polygon points="50.90,666.42 60.20,671.32 50.90,676.22" fill="#fff" stroke="#000" stroke-width="1.15"/>
<polygon points="53.80,667.94 60.20,671.32 53.80,674.69" fill="#000" stroke="#000" stroke-width="1"/>
<polygon points="107.65,666.42 116.95,671.32 107.65,676.22" fill="#fff" stroke="#000" stroke-width="1.15"/>
<polygon points="110.55,667.94 116.95,671.32 110.55,674.69" fill="#000" stroke="#000" stroke-width="1"/>
<polygon points="164.40,666.42 173.70,671.32 164.40,676.22" fill="#fff" stroke="#000" stroke-width="1.15"/>
<polygon points="167.30,667.94 173.70,671.32 167.30,674.69" fill="#000" stroke="#000" stroke-width="1"/>
<polygon points="221.15,666.42 230.45,671.32 221.15,676.22" fill="#fff" stroke="#000" stroke-width="1.15"/>
<polygon points="224.05,667.94 230.45,671.32 224.05,674.69" fill="#000" stroke="#000" stroke-width="1"/>
<polygon points="277.90,666.42 287.20,671.32 277.90,676.22" fill="#fff" stroke="#000" stroke-width="1.15"/>
<polygon points="280.80,667.94 287.20,671.32 280.80,674.69" fill="#000" stroke="#000" stroke-width="1"/>
<polygon points="334.65,666.42 343.95,671.32 334.65,676.22" fill="#fff" stroke="#000" stroke-width="1.15"/>
<polygon points="337.55,667.94 343.95,671.32 337.55,674.69" fill="#000" stroke="#000" stroke-width="1"/>
<polygon points="391.40,666.42 400.70,671.32 391.40,676.22" fill="#fff" stroke="#000" stroke-width="1.15"/>
<polygon points="394.30,667.94 400.70,671.32 394.30,674.69" fill="#000" stroke="#000" stroke-width="1"/>
<polygon points="448.15,666.42 457.45,671.32 448.15,676.22" fill="#fff" stroke="#000" stroke-width="1.15"/>
<polygon points="451.05,667.94 457.45,671.32 451.05,674.69" fill="#000" stroke="#000" stroke-width="1"/>
<polygon points="504.90,666.42 514.20,671.32 504.90,676.22" fill="#fff" stroke="#000" stroke-width="1.15"/>
<polygon points="507.80,667.94 514.20,671.32 507.80,674.69" fill="#000" stroke="#000" stroke-width="1"/>
</g>
<rect x="54.3" y="506.3" width="454.00" height="366.70" fill="none" stroke="#000" stroke-width="1.8"/>
<text x="46" y="877.00" font-size="15.6" text-anchor="end">10</text>
<text x="46" y="803.66" font-size="15.6" text-anchor="end">20</text>
<text x="46" y="730.32" font-size="15.6" text-anchor="end">30</text>
<text x="46" y="656.98" font-size="15.6" text-anchor="end">40</text>
<text x="46" y="583.64" font-size="15.6" text-anchor="end">50</text>
<text x="46" y="510.30" font-size="15.6" text-anchor="end">60</text>
<text x="19.5" y="675.32" font-size="15.6">37.5°</text>
<text x="54.30" y="892.3" font-size="15.6" text-anchor="middle">60</text>
<text x="167.80" y="892.3" font-size="15.6" text-anchor="middle">70</text>
<text x="281.30" y="892.3" font-size="15.6" text-anchor="middle">80</text>
<text x="394.80" y="892.3" font-size="15.6" text-anchor="middle">90</text>
<text x="508.30" y="892.3" font-size="15.6" text-anchor="middle">100</text>
<text x="54.5" y="495.6" font-size="18.6" stroke-width="0.6">(b)</text>
<g transform="translate(19.1,712.6) rotate(-90)"><text transform="translate(-1.2,0) scale(1.24,1) skewX(-10)" font-size="20" font-style="italic" stroke-width="0.5">α</text><text x="12.4" y="4.7" font-size="12.8" font-style="italic" stroke-width="0.45">max</text><text x="33.4" y="-0.4" font-size="18">/°</text></g>
<text transform="translate(274.8,924.8) scale(1.08,1)" font-size="19.4" font-style="italic" stroke-width="1.05">θ<tspan font-size="14.5" dy="6.0" dx="-1.0" stroke-width="0.55">0</tspan></text>
<path d="M394.9,710.00h39.5" stroke="#87870e" stroke-width="1.3"/>
<rect x="410.10" y="705.70" width="8.60" height="8.60" fill="#87870e"/>
<text x="440" y="715.70" font-size="17.4" stroke-width="0.45"><tspan font-style="italic" font-size="19.5" stroke-width="0.45">φ</tspan><tspan dx="-2.4">=0°</tspan></text>
<path d="M394.9,733.50h39.5" stroke="#ec4046" stroke-width="1.3"/>
<circle cx="414.40" cy="733.50" r="4.45" fill="#ec4046"/>
<text x="440" y="739.20" font-size="17.4" stroke-width="0.45"><tspan font-style="italic" font-size="19.5" stroke-width="0.45">φ</tspan><tspan dx="-2.4">=30°</tspan></text>
<path d="M394.9,757.00h39.5" stroke="#2166de" stroke-width="1.3"/>
<polygon points="414.40,750.70 409.20,760.70 419.60,760.70" fill="#2166de"/>
<text x="440" y="762.70" font-size="17.4" stroke-width="0.45"><tspan font-style="italic" font-size="19.5" stroke-width="0.45">φ</tspan><tspan dx="-2.4">=60°</tspan></text>
<path d="M394.9,780.50h39.5" stroke="#33a56e" stroke-width="1.3"/>
<polygon points="414.40,774.90 416.03,778.56 420.01,778.98 417.04,781.66 417.87,785.57 414.40,783.57 410.93,785.57 411.76,781.66 408.79,778.98 412.77,778.56" fill="#33a56e"/>
<text x="440" y="786.20" font-size="17.4" stroke-width="0.45"><tspan font-style="italic" font-size="19.5" stroke-width="0.45">φ</tspan><tspan dx="-2.4">=90°</tspan></text>
<path d="M394.9,804.00h39.5" stroke="#b275e2" stroke-width="1.3"/>
<polygon points="414.40,798.83 419.51,802.54 417.56,808.55 411.24,808.55 409.29,802.54" fill="#b275e2"/>
<text x="440" y="809.70" font-size="17.4" stroke-width="0.45"><tspan font-style="italic" font-size="19.5" stroke-width="0.45">φ</tspan><tspan dx="-2.4">=120°</tspan></text>
<path d="M394.9,827.50h39.5" stroke="#d2960e" stroke-width="1.3"/>
<polygon points="414.40,821.80 419.50,827.50 414.40,833.20 409.30,827.50" fill="#d2960e"/>
<text x="440" y="833.20" font-size="17.4" stroke-width="0.45"><tspan font-style="italic" font-size="19.5" stroke-width="0.45">φ</tspan><tspan dx="-2.4">=150°</tspan></text>
<path d="M394.9,851.00h39.5" stroke="#1ac6c6" stroke-width="1.3"/>
<polygon points="414.40,857.20 409.20,847.40 419.60,847.40" fill="#1ac6c6"/>
<text x="440" y="856.70" font-size="17.4" stroke-width="0.45"><tspan font-style="italic" font-size="19.5" stroke-width="0.45">φ</tspan><tspan dx="-2.4">=180°</tspan></text>
</svg></body></html>
